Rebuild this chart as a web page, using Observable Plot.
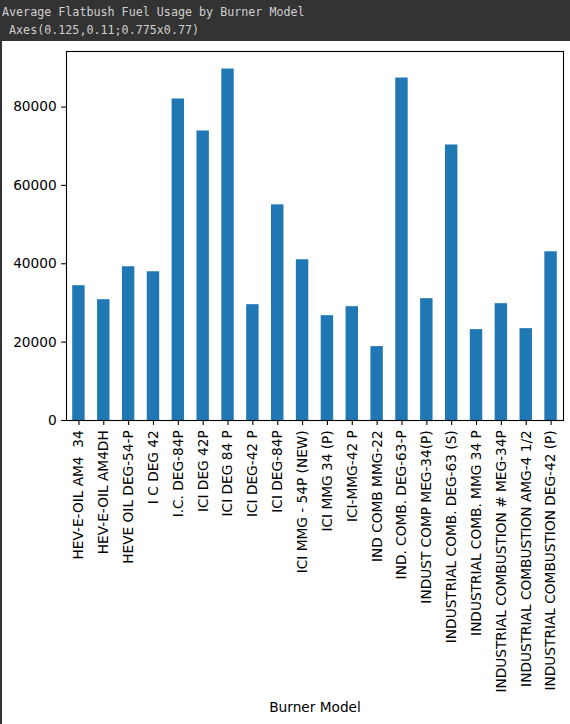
<!DOCTYPE html>
<html>
<head>
<meta charset="utf-8">
<script src="https://cdn.jsdelivr.net/npm/d3@7"></script>
<script src="https://cdn.jsdelivr.net/npm/@observablehq/plot@0.6"></script>
<style>
  html, body { margin: 0; padding: 0; background: #fff; }
  body { width: 570px; height: 724px; overflow: hidden; box-sizing: border-box; border-left: 2px solid #333; }
  #hdr { background: #333; color: #cfcfcf; font-family: "DejaVu Sans Mono", "Liberation Mono", monospace;
         font-size: 11.7px; line-height: 18px; height: 41px; white-space: pre; padding: 3px 0 0 0; box-sizing: border-box; }
  #chart svg { display: block; }
</style>
</head>
<body>
<div id="hdr">Average Flatbush Fuel Usage by Burner Model
 Axes(0.125,0.11;0.775x0.77)</div>
<div id="chart"></div>
<script>
const models = [
  "HEV-E-OIL AM4  34",
  "HEV-E-OIL AM4DH",
  "HEVE OIL DEG-54-P",
  "I C DEG 42",
  "I.C. DEG-84P",
  "ICI DEG 42P",
  "ICI DEG 84 P",
  "ICI DEG-42 P",
  "ICI DEG-84P",
  "ICI MMG - 54P (NEW)",
  "ICI MMG 34 (P)",
  "ICI-MMG-42 P",
  "IND COMB MMG-22",
  "IND. COMB. DEG-63-P",
  "INDUST COMP MEG-34(P)",
  "INDUSTRIAL COMB. DEG-63 (S)",
  "INDUSTRIAL COMB. MMG 34 P",
  "INDUSTRIAL COMBUSTION # MEG-34P",
  "INDUSTRIAL COMBUSTION AMG-4 1/2",
  "INDUSTRIAL COMBUSTION DEG-42 (P)"
];
const usage = [
  34400, 30830, 39240, 37960, 82050, 73890, 89690, 29560, 55040, 41020,
  26750, 29050, 18860, 87400, 31090, 70320, 23190, 29810, 23440, 43060
];
const yTicks = [0, 20000, 40000, 60000, 80000];
const xLabel = "Burner Model";

const data = models.map((m, i) => ({model: m, value: usage[i]}));
const ymax = d3.max(usage) * 1.05;
const FS = 13.7;

const chart = Plot.plot({
  width: 568,
  height: 683,
  marginLeft: 64,
  marginRight: 7,
  marginTop: 10,
  marginBottom: 304,
  style: {fontFamily: "DejaVu Sans", fontSize: FS + "px", color: "#000", background: "#fff"},
  x: {domain: models, paddingInner: 0.5, paddingOuter: 0.25, round: false, label: null},
  y: {domain: [0, ymax], label: null},
  marks: [
    Plot.barY(data, {x: "model", y: "value", fill: "#1f77b4"}),
    Plot.axisY({ticks: yTicks, tickFormat: d => String(d), tickSize: 4.9, tickPadding: 4.9, fontSize: FS, label: null, strokeWidth: 1.1}),
    Plot.axisX({tickRotate: -90, tickSize: 4.9, tickPadding: 4.9, fontSize: FS, label: null, strokeWidth: 1.1,
                tickFormat: d => d.replace(/  /g, "\u00a0 ")}),
    Plot.text([xLabel], {frameAnchor: "bottom", lineAnchor: "middle", dy: 287, fontSize: FS, fill: "#000"}),
    Plot.frame({stroke: "#000", strokeWidth: 1.1})
  ]
});
document.getElementById("chart").appendChild(chart);
</script>
</body>
</html>
